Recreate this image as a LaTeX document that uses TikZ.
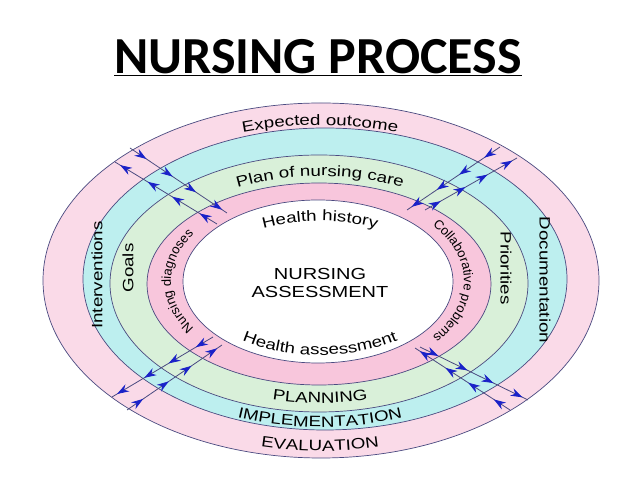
\documentclass[tikz,border=0pt]{standalone}
\usepackage{fontspec}
\setmainfont{Liberation Sans}
\newfontfamily\titlefont{Carlito}
\newfontfamily\labfont[FakeStretch=1.25]{Liberation Sans}
\usetikzlibrary{decorations.text,decorations.markings,arrows.meta}
\definecolor{pinkA}{HTML}{FADAE8}
\definecolor{pinkB}{HTML}{F8C6DC}
\definecolor{cyanA}{HTML}{BDEFEF}
\definecolor{greenA}{HTML}{D9F0D9}
\definecolor{edge}{HTML}{4A4A80}
\definecolor{arr}{HTML}{1A22C8}
\newcommand{\lab}{\labfont\fontsize{15pt}{17pt}\selectfont}
\newcommand{\labs}{\fontsize{13pt}{15pt}\selectfont}
\tikzset{
  ring/.style={draw=edge,line width=0.7pt},
  band/.style={font=\lab},
  arrline/.style={draw=edge,line width=0.8pt,postaction=decorate,
    decoration={markings,
      mark=at position 0.17 with {\arrow[arr]{Stealth[length=12pt,width=8pt]}},
      mark=at position 0.44 with {\arrow[arr]{Stealth[length=12pt,width=8pt]}},
      mark=at position 0.68 with {\arrow[arr]{Stealth[length=12pt,width=8pt]}},
      mark=at position 0.95 with {\arrow[arr]{Stealth[length=12pt,width=8pt]}}}}
}
% #1 cx, #2 cy, #3 rx, #4 ry, #5 start, #6 end, #7 font, #8 text
\newcommand{\arctext}[8]{%
  \path[postaction={decorate},decoration={text along path,text align=center,
    text={|#7|#8}}]
    (#1pt,#2pt) ++(#5:#3pt and #4pt)
    arc[start angle=#5,end angle=#6,x radius=#3pt,y radius=#4pt];}
\begin{document}
\begin{tikzpicture}[x=1pt,y=1pt]
\useasboundingbox (0,0) rectangle (638,479);
\fill[white] (0,0) rectangle (638,479);
% title
\node[font=\titlefont\bfseries\fontsize{52pt}{58pt}\selectfont] (title) at (318,421) {\underline{NURSING PROCESS}};
% rings
\filldraw[ring,fill=pinkA] (321,198.5) ellipse [x radius=278,y radius=177.5];
\filldraw[ring,fill=cyanA] (325,200) ellipse [x radius=242,y radius=151];
\filldraw[ring,fill=greenA] (319,195.5) ellipse [x radius=209,y radius=128.5];
\filldraw[ring,fill=pinkB] (319,195) ellipse [x radius=172,y radius=101];
\filldraw[ring,fill=white] (318,197.5) ellipse [x radius=135,y radius=81.5];
% arrows
\coordinate (ula) at (130,331); \coordinate (ulb) at (227,266);
\coordinate (ulc) at (217,255); \coordinate (uld) at (115,317);
\draw[arrline] (ula) -- (ulb);
\draw[arrline] (ulc) -- (uld);
\coordinate (lla) at (213,142); \coordinate (llb) at (112,82);
\coordinate (llc) at (127,69); \coordinate (lld) at (222,134);
\draw[arrline] (lla) -- (llb);
\draw[arrline] (llc) -- (lld);
\coordinate (ura) at (500,332); \coordinate (urb) at (407,269);
\coordinate (urc) at (425,269); \coordinate (urd) at (517,321);
\draw[arrline] (ura) -- (urb);
\draw[arrline] (urc) -- (urd);
\coordinate (lra) at (420,132); \coordinate (lrb) at (528,79);
\coordinate (lrc) at (510,69); \coordinate (lrd) at (415,131);
\draw[arrline] (lra) -- (lrb);
\draw[arrline] (lrc) -- (lrd);
% curved labels
\arctext{320}{198}{255}{156}{130}{50}{\lab}{Expected outcome}
\arctext{320}{198}{182}{105}{135}{45}{\lab}{Plan of nursing care}
\arctext{320}{198}{118}{60}{140}{40}{\lab}{Health history}
\arctext{320}{198}{130}{74}{225}{315}{\lab}{Health assessment}
\arctext{320}{198}{196}{122}{232}{308}{\lab}{PLANNING}
\arctext{320}{198}{232}{146}{228}{312}{\lab}{IMPLEMENTATION}
\arctext{320}{198}{265}{170}{235}{305}{\lab}{EVALUATION}
\arctext{320}{198}{149}{88}{245}{115}{\labs}{Nursing diagnoses}
\arctext{318}{198}{146}{90}{68}{-68}{\labs}{Collaborative problems}
% straight side labels
\node[band,rotate=90] (interv) at (97,204) {Interventions};
\node[band,rotate=90] (goals) at (128,211) {Goals};
\node[band,rotate=-90] (prio) at (506,211) {Priorities};
\node[band,rotate=-90] (docu) at (545,199) {Documentation};
\node[font=\labfont\fontsize{16pt}{18pt}\selectfont,align=center] (center) at (320,196) {NURSING\\ASSESSMENT};
\end{tikzpicture}
\end{document}
